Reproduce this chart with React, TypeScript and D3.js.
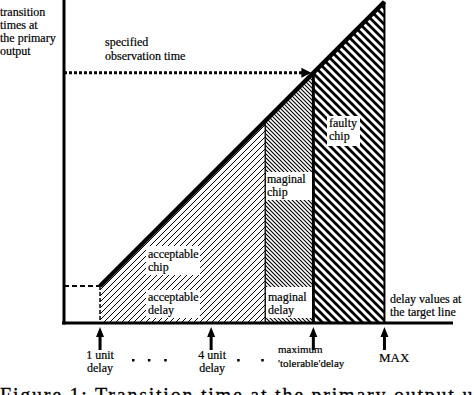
import React from "react";
import * as d3 from "d3";

const W = 474;
const H = 395;

// delay values (in unit delays) marked under the axis
const delayTicks = [1, 4, 6.76, 8.68];
const tickLabels = [["1 unit", "delay"], ["4 unit", "delay"], ["maximum", "'tolerable'delay"], ["MAX"]];
// region boundaries along the delay axis
const regionBounds = [1, 5.46, 6.76, 8.68];
const regionNames = ["acceptable", "marginal", "faulty"];
// transition time line (delay, time)
const transitionDelays = [1, 8.68];
const transitionTimes = [1, 8.68];
const observationTime = 6.76;
const ellipsisDelays = [1.89, 2.32, 2.76, 4.73, 5.38];

const FONT = "Liberation Serif";

export default function App() {
  const x = d3.scaleLinear().domain([0, 10.45]).range([63, 450]);
  const y = d3.scaleLinear().domain([0, 8.7]).range([323, 1]);
  const tAt = d3.scaleLinear().domain(transitionDelays).range(transitionTimes);

  const polys = regionNames.map((name, i) => {
    const d0 = regionBounds[i];
    const d1 = regionBounds[i + 1];
    const pts: [number, number][] = [
      [x(d0), y(0)],
      [x(d0), y(tAt(d0))],
      [x(d1), y(tAt(d1))],
      [x(d1), y(0)],
    ];
    return { name, d: d3.line()(pts) + "Z" };
  });

  const fillFor: Record<string, string> = {
    acceptable: "url(#hAcc)",
    marginal: "url(#hMarg)",
    faulty: "url(#hFault)",
  };

  const lineGen = d3.line<number>().x((d) => x(d)).y((d, i) => y(transitionTimes[i]));
  const obsY = y(observationTime);
  const xObs = x(observationTime);

  const T = (props: any) => (
    <text
      fontFamily={FONT}
      fontSize={12}
      fill="#000"
      stroke="#000"
      strokeWidth={0.2}
      {...props}
    />
  );

  const box = (bx: number, by: number, bw: number, bh: number, lines: string[], tx: number, base: number[]) => (
    <g>
      <rect x={bx} y={by} width={bw} height={bh} fill="#fff" />
      {lines.map((l, i) => (
        <T key={i} x={tx} y={base[i]}>
          {l}
        </T>
      ))}
    </g>
  );

  return (
    <svg
      width={W}
      height={H}
      style={{ position: "absolute", left: 0, top: 0, background: "#fff" }}
    >
      <defs>
        <pattern id="hAcc" patternUnits="userSpaceOnUse" width={6} height={6}>
          <path d="M-1,1 L1,-1 M0,6 L6,0 M5,7 L7,5" stroke="#000" strokeWidth={1} />
        </pattern>
        <pattern id="hMarg" patternUnits="userSpaceOnUse" width={4} height={4}>
          <path d="M-1,3 L1,5 M0,0 L4,4 M3,-1 L5,1" stroke="#000" strokeWidth={1.1} />
        </pattern>
        <pattern id="hFault" patternUnits="userSpaceOnUse" width={8} height={8}>
          <path d="M-2,6 L2,10 M0,0 L8,8 M6,-2 L10,2" stroke="#000" strokeWidth={2.8} />
        </pattern>
      </defs>

      {/* hatched regions */}
      {polys.map((p) => (
        <path key={p.name} d={p.d} fill={fillFor[p.name]} stroke="none" />
      ))}

      {/* region boundaries */}
      <line x1={x(regionBounds[0])} x2={x(regionBounds[0])} y1={y(tAt(regionBounds[0]))} y2={y(0)} stroke="#000" strokeWidth={1.5} strokeDasharray="4,2" />
      <line x1={x(regionBounds[1])} x2={x(regionBounds[1])} y1={y(tAt(regionBounds[1]))} y2={y(0)} stroke="#000" strokeWidth={1.3} />
      <line x1={x(regionBounds[2])} x2={x(regionBounds[2])} y1={y(tAt(regionBounds[2]))} y2={y(0)} stroke="#000" strokeWidth={3} />
      <line x1={x(regionBounds[3])} x2={x(regionBounds[3])} y1={y(tAt(regionBounds[3]))} y2={y(0)} stroke="#000" strokeWidth={2} />

      {/* dashed level from axis to 1 unit */}
      <line x1={64} x2={x(regionBounds[0])} y1={y(tAt(regionBounds[0]))} y2={y(tAt(regionBounds[0]))} stroke="#000" strokeWidth={2} strokeDasharray="5,3" />

      {/* transition line */}
      <path d={lineGen(transitionDelays) || ""} stroke="#000" strokeWidth={4.5} fill="none" />

      {/* observation time dotted arrow */}
      <line x1={64} x2={xObs - 10} y1={obsY} y2={obsY} stroke="#000" strokeWidth={3} strokeDasharray="3,2" />
      <path d={`M${xObs - 12},${obsY - 5} L${xObs - 2},${obsY} L${xObs - 12},${obsY + 5}Z`} fill="#000" />

      {/* axes */}
      <line x1={64} x2={64} y1={0} y2={324.5} stroke="#000" strokeWidth={3} />
      <line x1={62} x2={453} y1={323} y2={323} stroke="#000" strokeWidth={3} />

      {/* label boxes */}
      {box(327, 116, 33, 30, ["faulty", "chip"], 329, [127, 140])}
      {box(266, 172, 46, 28, ["maginal", "chip"], 267, [183, 196])}
      {box(266, 287, 46, 31, ["maginal", "delay"], 268, [301, 314])}
      {box(146, 246, 54, 29, ["acceptable", "chip"], 148, [258, 271])}
      {box(146, 290, 54, 28, ["acceptable", "delay"], 148, [301, 314])}

      {/* free labels */}
      {[["transition", 16], ["times at", 29], ["the primary", 42], ["output", 55]].map(([t, by]) => (
        <T key={t as string} x={0} y={by as number}>
          {t}
        </T>
      ))}
      <T x={105} y={46}>specified</T>
      <T x={105} y={60}>observation time</T>
      <T x={390} y={303}>delay values at</T>
      <T x={390} y={316}>the target line</T>

      {/* arrows under axis */}
      {delayTicks.map((d, i) => {
        const ax = x(d);
        return (
          <g key={i}>
            <line x1={ax} x2={ax} y1={350} y2={334} stroke="#000" strokeWidth={3} />
            <path d={`M${ax - 4},${337} L${ax},${327} L${ax + 4},${337}Z`} fill="#000" />
          </g>
        );
      })}

      {/* tick labels */}
      <T x={x(delayTicks[0])} y={359} textAnchor="middle">{tickLabels[0][0]}</T>
      <T x={x(delayTicks[0])} y={372} textAnchor="middle">{tickLabels[0][1]}</T>
      <T x={x(delayTicks[1]) + 1} y={359} textAnchor="middle">{tickLabels[1][0]}</T>
      <T x={x(delayTicks[1]) + 1} y={372} textAnchor="middle">{tickLabels[1][1]}</T>
      <T x={278} y={353} fontSize={11}>{tickLabels[2][0]}</T>
      <T x={278} y={367} fontSize={11}>{tickLabels[2][1]}</T>
      <T x={379} y={362} fontSize={13}>{tickLabels[3][0]}</T>

      {/* ellipsis dots */}
      {ellipsisDelays.map((d, i) => (
        <rect key={i} x={x(d) - 1} y={359} width={2.5} height={2.5} fill="#000" />
      ))}

      {/* caption (cut off at bottom) */}
      <text
        x={0}
        y={402}
        textLength={482}
        lengthAdjust="spacing"
        fontFamily={FONT}
        fontSize={20}
        fill="#000"
        stroke="#000"
        strokeWidth={0.3}
      >
        Figure 1: Transition time at the primary output us
      </text>
    </svg>
  );
}
